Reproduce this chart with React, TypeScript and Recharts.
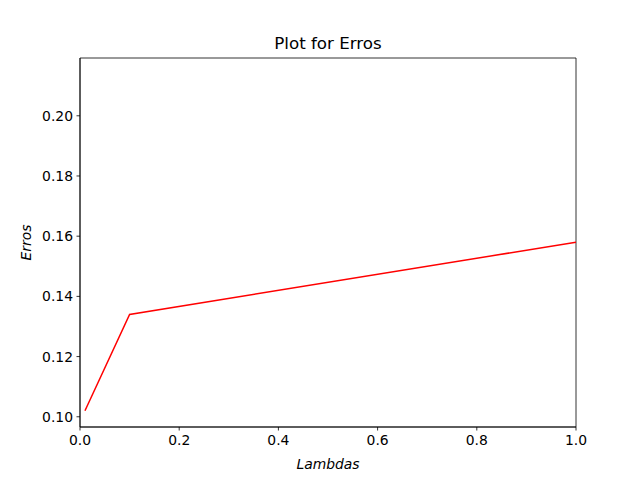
import React from 'react';
import { LineChart, Line, XAxis, YAxis, ReferenceArea, Label } from 'recharts';

const LAMBDAS = [0.01, 0.1, 1.0];
const ERROS = [0.102, 0.134, 0.158];
const X_TICKS = [0, 0.2, 0.4, 0.6, 0.8, 1.0];
const Y_TICKS = [0.1, 0.12, 0.14, 0.16, 0.18, 0.2];

const Y_MIN = 0.0966;
const Y_MAX = 0.2192;

const data = LAMBDAS.map((l, i) => ({ lambda: l, erro: ERROS[i] }));

const FONT = 'DejaVu Sans';
const tickStyle = { fill: '#000', fontSize: 13.9, fontFamily: FONT };

export default function App() {
  return (
    <div style={{ position: 'absolute', left: 0, top: 0, width: 640, height: 480, background: '#fff' }}>
      <div
        style={{
          position: 'absolute', left: 80, width: 496, top: 33, textAlign: 'center',
          fontFamily: FONT, fontSize: 16.7, color: '#000', lineHeight: '20px',
        }}
      >
        Plot for Erros
      </div>
      <LineChart width={640} height={480} data={data} margin={{ top: 58, right: 64, bottom: 0, left: 0 }}>
        <XAxis
          dataKey="lambda"
          type="number"
          domain={[0, 1]}
          ticks={X_TICKS}
          tickFormatter={(v: number) => v.toFixed(1)}
          height={53}
          tick={tickStyle}
          tickSize={3.5}
          tickMargin={5}
          stroke="#000"
          strokeWidth={0.8}
          allowDataOverflow
        >
          <Label value="Lambdas" position="insideBottom" offset={11} style={{ fontStyle: 'italic', fontSize: 13.9, fontFamily: FONT, fill: '#000' }} />
        </XAxis>
        <YAxis
          type="number"
          domain={[Y_MIN, Y_MAX]}
          ticks={Y_TICKS}
          tickFormatter={(v: number) => v.toFixed(2)}
          width={80}
          tick={tickStyle}
          tickSize={3.5}
          tickMargin={3.5}
          stroke="#000"
          strokeWidth={0.8}
          allowDataOverflow
        >
          <Label value="Erros" angle={-90} position="insideLeft" offset={26} style={{ fontStyle: 'italic', fontSize: 13.9, fontFamily: FONT, fill: '#000', textAnchor: 'middle' }} />
        </YAxis>
        <ReferenceArea x1={0} x2={1} y1={Y_MIN} y2={Y_MAX} fill="none" stroke="#000" strokeWidth={0.8} fillOpacity={0} />
        <Line
          dataKey="erro"
          stroke="#ff0000"
          strokeWidth={1.5}
          dot={false}
          isAnimationActive={false}
        />
      </LineChart>
    </div>
  );
}
